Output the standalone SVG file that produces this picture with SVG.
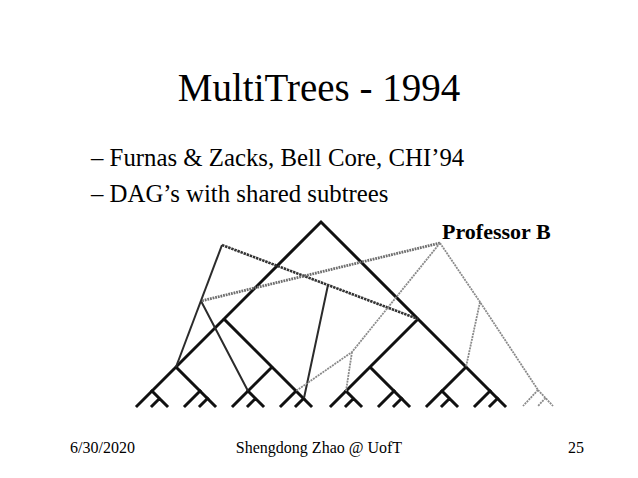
<svg xmlns="http://www.w3.org/2000/svg" width="638" height="478" viewBox="0 0 638 478">
<style>
.serif{font-family:"Liberation Serif","Times New Roman",serif;fill:#000}
.a{stroke:#111;stroke-width:3;fill:none;stroke-linecap:square}
.d{stroke:#2b2b2b;stroke-width:2;fill:none}
.d2{stroke:#333;stroke-width:2.6;fill:none;stroke-dasharray:2.5 0.8}
.bt{stroke:#6e6e6e;stroke-width:2.8;fill:none;stroke-dasharray:1.8 0.9}
.b{stroke:#8a8a8a;stroke-width:1.8;fill:none;stroke-dasharray:2 0.9}
</style>
<rect width="638" height="478" fill="#fff"/>
<g id="title"><text class="serif" x="319" y="101" font-size="39" text-anchor="middle">MultiTrees - 1994</text></g>
<g id="bullets" class="serif" font-size="24.8">
<text x="91" y="166">– Furnas &amp; Zacks, Bell Core, CHI’94</text>
<text x="91" y="202">– DAG’s with shared subtrees</text>
</g>
<g id="connectors">
<g id="tree-a">
<path class="a" d="M137,406 L321,222 L505,406 M224,319 L311,406 M418,319 L331,406 M176,367 L215,406 M272,367 L233,406 M370,367 L409,406 M466,367 L427,406"/>
<path class="a" d="M152,391 L167,406 M159.5,398.5 L152,406 M200,391 L185,406 M207.5,398.5 L200,406 M248,391 L263,406 M255.5,398.5 L248,406 M296,391 L281,406 M303.5,398.5 L296,406 M346,391 L361,406 M353.5,398.5 L346,406 M394,391 L379,406 M401.5,398.5 L394,406 M442,391 L457,406 M449.5,398.5 L442,406 M490,391 L475,406 M497.5,398.5 L490,406"/>
</g>
<g id="tree-d">
<path class="d" d="M176,367 L222,245"/>
<path class="d2" d="M222,245 L418,319"/>
<path class="d" d="M201,301 L248,391 M328,285 L304,398"/>
</g>
<g id="tree-b">
<path class="bt" d="M440,243 L201,301"/>
<path class="b" d="M440,243 L352,352 L296,391 M352,352 L346,391 M440,243 L480,302 L538,390 M480,302 L466,367 M538,390 L523,406 M538,390 L553,406 M545.5,398 L538,406"/>
</g>
</g>
<g id="node-professor-b"><text class="serif" x="442" y="239" font-size="22" font-weight="bold">Professor B</text></g>
<g id="footer" class="serif" font-size="16">
<text x="70" y="453">6/30/2020</text>
<text x="319" y="453" text-anchor="middle">Shengdong Zhao @ UofT</text>
<text x="584" y="453" text-anchor="end">25</text>
</g>
</svg>
